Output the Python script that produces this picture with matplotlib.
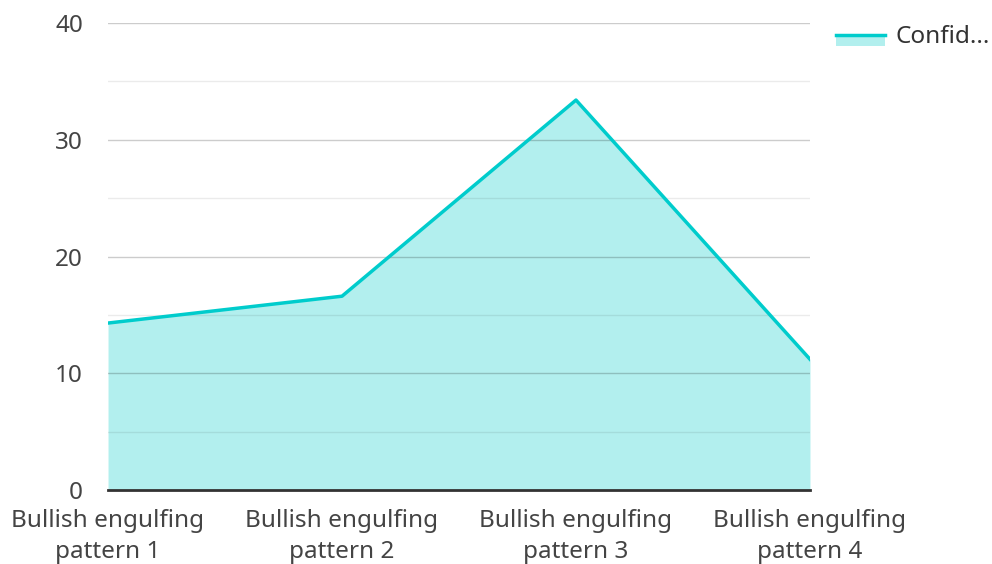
import matplotlib
matplotlib.use("Agg")
import matplotlib.pyplot as plt
from matplotlib.patches import Patch, Rectangle
from matplotlib.lines import Line2D
from matplotlib.legend_handler import HandlerBase

categories = ["Bullish engulfing\npattern 1", "Bullish engulfing\npattern 2",
              "Bullish engulfing\npattern 3", "Bullish engulfing\npattern 4"]
confidence = [14.3, 16.6, 33.4, 11.2]
series_name = "Confid..."

LINE = '#00cccc'
FILL = '#b2efee'

plt.rcParams['font.family'] = ['Noto Sans', 'DejaVu Sans']


class AreaHandler(HandlerBase):
    # line through the middle, filled box underneath it
    def create_artists(self, legend, orig_handle, xdescent, ydescent,
                       width, height, fontsize, trans):
        mid = height * 0.5
        rect = Rectangle((-xdescent, -ydescent), width, mid,
                         facecolor=FILL, edgecolor='none', transform=trans)
        line = Line2D([-xdescent, -xdescent + width], [mid - ydescent, mid - ydescent],
                      color=LINE, linewidth=2.5, transform=trans)
        return [rect, line]


fig = plt.figure(figsize=(9.92, 5.64), dpi=100)
ax = fig.add_axes([0.1089, 0.1312, 0.7076, 0.828])

x = list(range(len(categories)))
ax.fill_between(x, confidence, 0, color=FILL, zorder=1, linewidth=0)
ax.plot(x, confidence, color=LINE, linewidth=2.5, zorder=3)

ax.set_xlim(0, 3)
ax.set_ylim(0, 40)
ax.set_yticks([0, 10, 20, 30, 40])
ax.set_yticks([5, 15, 25, 35], minor=True)
ax.set_xticks(x)
ax.set_xticklabels(categories)

ax.grid(axis='y', which='major', color='#000000', alpha=0.2, linewidth=1, zorder=2)
ax.grid(axis='y', which='minor', color='#000000', alpha=0.08, linewidth=1, zorder=2)
ax.set_axisbelow(False)

for s in ['left', 'right', 'top']:
    ax.spines[s].set_visible(False)
ax.spines['bottom'].set_color('#333333')
ax.spines['bottom'].set_linewidth(2)
ax.spines['bottom'].set_zorder(4)

ax.tick_params(axis='both', which='both', length=0, labelsize=17.5, colors='#444444')
ax.tick_params(axis='y', pad=18)
ax.tick_params(axis='x', pad=14)
for lbl in ax.get_xticklabels():
    lbl.set_linespacing(1.35)

leg = fig.legend([Patch()], [series_name], loc='upper left',
                 bbox_to_anchor=(0.821, 0.996), frameon=False,
                 fontsize=17.5, handlelength=2.0, handleheight=1.0, handletextpad=0.45,
                 handler_map={Patch: AreaHandler()})
for t in leg.get_texts():
    t.set_color('#333333')

fig.savefig("out.png", dpi=100)
